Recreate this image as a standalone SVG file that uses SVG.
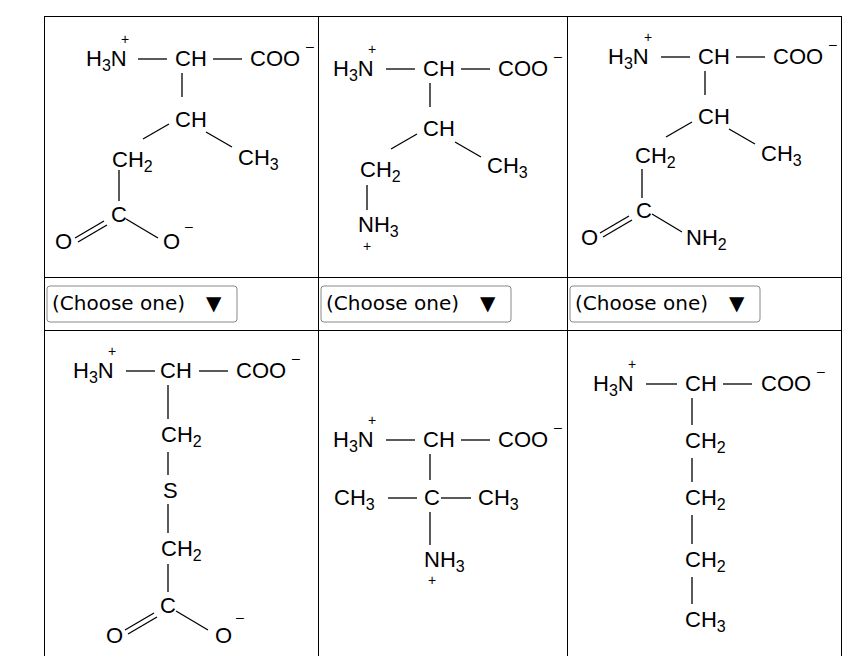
<svg xmlns="http://www.w3.org/2000/svg" width="867" height="656" viewBox="0 0 867 656">
<style>
text{font-family:"Liberation Sans",Arial,sans-serif;font-size:22px;fill:#000}
.s{font-size:16px}
.c{font-size:14px}
.b{stroke:#000;stroke-width:1.3;fill:none}
.g{stroke:#000;stroke-width:1;fill:none}
.dd{font-family:"DejaVu Sans",Verdana,sans-serif;font-size:20px}
.box{fill:#fff;stroke:#888;stroke-width:1}
</style>
<rect width="867" height="656" fill="#fff"/>
<g id="table" class="g">
<rect x="44.5" y="16.5" width="797" height="650"/>
<line x1="318.5" y1="16" x2="318.5" y2="656"/>
<line x1="567.5" y1="16" x2="567.5" y2="656"/>
<line x1="44" y1="277.5" x2="842" y2="277.5"/>
<line x1="44" y1="330.5" x2="842" y2="330.5"/>
</g>
<g id="dropdowns">
<rect class="box" x="47" y="286" width="190" height="36" rx="3"/>
<text class="dd" x="52" y="310">(Choose one)</text><text class="dd" x="206" y="310">▼</text>
<rect class="box" x="321" y="286" width="190" height="36" rx="3"/>
<text class="dd" x="326" y="310">(Choose one)</text><text class="dd" x="480" y="310">▼</text>
<rect class="box" x="570" y="286" width="190" height="36" rx="3"/>
<text class="dd" x="575" y="310">(Choose one)</text><text class="dd" x="729" y="310">▼</text>
</g>
<g id="mol1">
<text x="86" y="66">H<tspan class="s" dy="5">3</tspan><tspan dy="-5">N</tspan></text><text class="c" x="121" y="44">+</text>
<text x="175" y="66">CH</text><text x="250" y="66">COO</text><text class="c" x="306" y="51">–</text>
<line class="b" x1="138" y1="59" x2="167" y2="59"/><line class="b" x1="213" y1="59" x2="242" y2="59"/>
<line class="b" x1="182" y1="73" x2="182" y2="97"/>
<text x="175" y="127">CH</text>
<line class="b" x1="143" y1="139" x2="169" y2="124"/><line class="b" x1="206" y1="132" x2="232" y2="147"/>
<text x="112" y="167">CH<tspan class="s" dy="5">2</tspan></text><text x="238" y="165">CH<tspan class="s" dy="5">3</tspan></text>
<line class="b" x1="119" y1="170" x2="119" y2="201"/>
<text x="111" y="222">C</text>
<line class="b" x1="75" y1="238" x2="104" y2="221"/><line class="b" x1="78" y1="242" x2="107" y2="225"/>
<line class="b" x1="126" y1="219" x2="158" y2="238"/>
<text x="55" y="249">O</text><text x="163" y="249">O</text><text class="c" x="185" y="231">–</text>
</g>
<g id="mol2">
<text x="333" y="76">H<tspan class="s" dy="5">3</tspan><tspan dy="-5">N</tspan></text><text class="c" x="368" y="54">+</text>
<text x="423" y="76">CH</text><text x="498" y="76">COO</text><text class="c" x="554" y="61">–</text>
<line class="b" x1="386" y1="69" x2="415" y2="69"/><line class="b" x1="461" y1="69" x2="490" y2="69"/>
<line class="b" x1="430" y1="83" x2="430" y2="107"/>
<text x="423" y="136">CH</text>
<line class="b" x1="391" y1="149" x2="417" y2="134"/><line class="b" x1="455" y1="142" x2="481" y2="157"/>
<text x="360" y="177">CH<tspan class="s" dy="5">2</tspan></text><text x="487" y="173">CH<tspan class="s" dy="5">3</tspan></text>
<line class="b" x1="367" y1="185" x2="367" y2="210"/>
<text x="358" y="232">NH<tspan class="s" dy="5">3</tspan></text><text class="c" x="363" y="251">+</text>
</g>
<g id="mol3">
<text x="608" y="64">H<tspan class="s" dy="5">3</tspan><tspan dy="-5">N</tspan></text><text class="c" x="644" y="42">+</text>
<text x="698" y="64">CH</text><text x="773" y="64">COO</text><text class="c" x="829" y="49">–</text>
<line class="b" x1="661" y1="57" x2="690" y2="57"/><line class="b" x1="736" y1="57" x2="765" y2="57"/>
<line class="b" x1="705" y1="71" x2="705" y2="95"/>
<text x="698" y="124">CH</text>
<line class="b" x1="666" y1="137" x2="692" y2="122"/><line class="b" x1="729" y1="129" x2="755" y2="144"/>
<text x="635" y="163">CH<tspan class="s" dy="5">2</tspan></text><text x="761" y="161">CH<tspan class="s" dy="5">3</tspan></text>
<line class="b" x1="642" y1="169" x2="642" y2="198"/>
<text x="636" y="218">C</text>
<line class="b" x1="600" y1="233" x2="629" y2="216"/><line class="b" x1="603" y1="237" x2="632" y2="220"/>
<line class="b" x1="652" y1="214" x2="682" y2="232"/>
<text x="581" y="245">O</text><text x="686" y="245">NH<tspan class="s" dy="5">2</tspan></text>
</g>
<g id="mol4">
<text x="73" y="378">H<tspan class="s" dy="5">3</tspan><tspan dy="-5">N</tspan></text><text class="c" x="108" y="356">+</text>
<text x="160" y="378">CH</text><text x="236" y="378">COO</text><text class="c" x="292" y="363">–</text>
<line class="b" x1="126" y1="371" x2="155" y2="371"/><line class="b" x1="199" y1="371" x2="228" y2="371"/>
<line class="b" x1="168" y1="385" x2="168" y2="419"/>
<text x="161" y="442">CH<tspan class="s" dy="5">2</tspan></text>
<line class="b" x1="168" y1="452" x2="168" y2="475"/>
<text x="163" y="498">S</text>
<line class="b" x1="168" y1="504" x2="168" y2="533"/>
<text x="161" y="556">CH<tspan class="s" dy="5">2</tspan></text>
<line class="b" x1="168" y1="564" x2="168" y2="592"/>
<text x="160" y="613">C</text>
<line class="b" x1="125" y1="630" x2="154" y2="613"/><line class="b" x1="128" y1="634" x2="157" y2="617"/>
<line class="b" x1="176" y1="611" x2="208" y2="630"/>
<text x="106" y="643">O</text><text x="215" y="643">O</text><text class="c" x="236" y="622">–</text>
</g>
<g id="mol5">
<text x="333" y="447">H<tspan class="s" dy="5">3</tspan><tspan dy="-5">N</tspan></text><text class="c" x="368" y="425">+</text>
<text x="423" y="447">CH</text><text x="498" y="447">COO</text><text class="c" x="554" y="432">–</text>
<line class="b" x1="386" y1="440" x2="415" y2="440"/><line class="b" x1="461" y1="440" x2="490" y2="440"/>
<line class="b" x1="430" y1="454" x2="430" y2="480"/>
<text x="334" y="505">CH<tspan class="s" dy="5">3</tspan></text>
<line class="b" x1="388" y1="498" x2="417" y2="498"/>
<text x="424" y="505">C</text>
<line class="b" x1="441" y1="498" x2="471" y2="498"/>
<text x="478" y="505">CH<tspan class="s" dy="5">3</tspan></text>
<line class="b" x1="430" y1="512" x2="430" y2="545"/>
<text x="424" y="567">NH<tspan class="s" dy="5">3</tspan></text><text class="c" x="428" y="585">+</text>
</g>
<g id="mol6">
<text x="593" y="391">H<tspan class="s" dy="5">3</tspan><tspan dy="-5">N</tspan></text><text class="c" x="628" y="369">+</text>
<text x="685" y="391">CH</text><text x="761" y="391">COO</text><text class="c" x="817" y="376">–</text>
<line class="b" x1="646" y1="384" x2="677" y2="384"/><line class="b" x1="723" y1="384" x2="752" y2="384"/>
<line class="b" x1="692" y1="398" x2="692" y2="425"/>
<text x="685" y="448">CH<tspan class="s" dy="5">2</tspan></text>
<line class="b" x1="692" y1="458" x2="692" y2="482"/>
<text x="685" y="505">CH<tspan class="s" dy="5">2</tspan></text>
<line class="b" x1="692" y1="515" x2="692" y2="544"/>
<text x="685" y="567">CH<tspan class="s" dy="5">2</tspan></text>
<line class="b" x1="692" y1="577" x2="692" y2="604"/>
<text x="685" y="627">CH<tspan class="s" dy="5">3</tspan></text>
</g>
</svg>
